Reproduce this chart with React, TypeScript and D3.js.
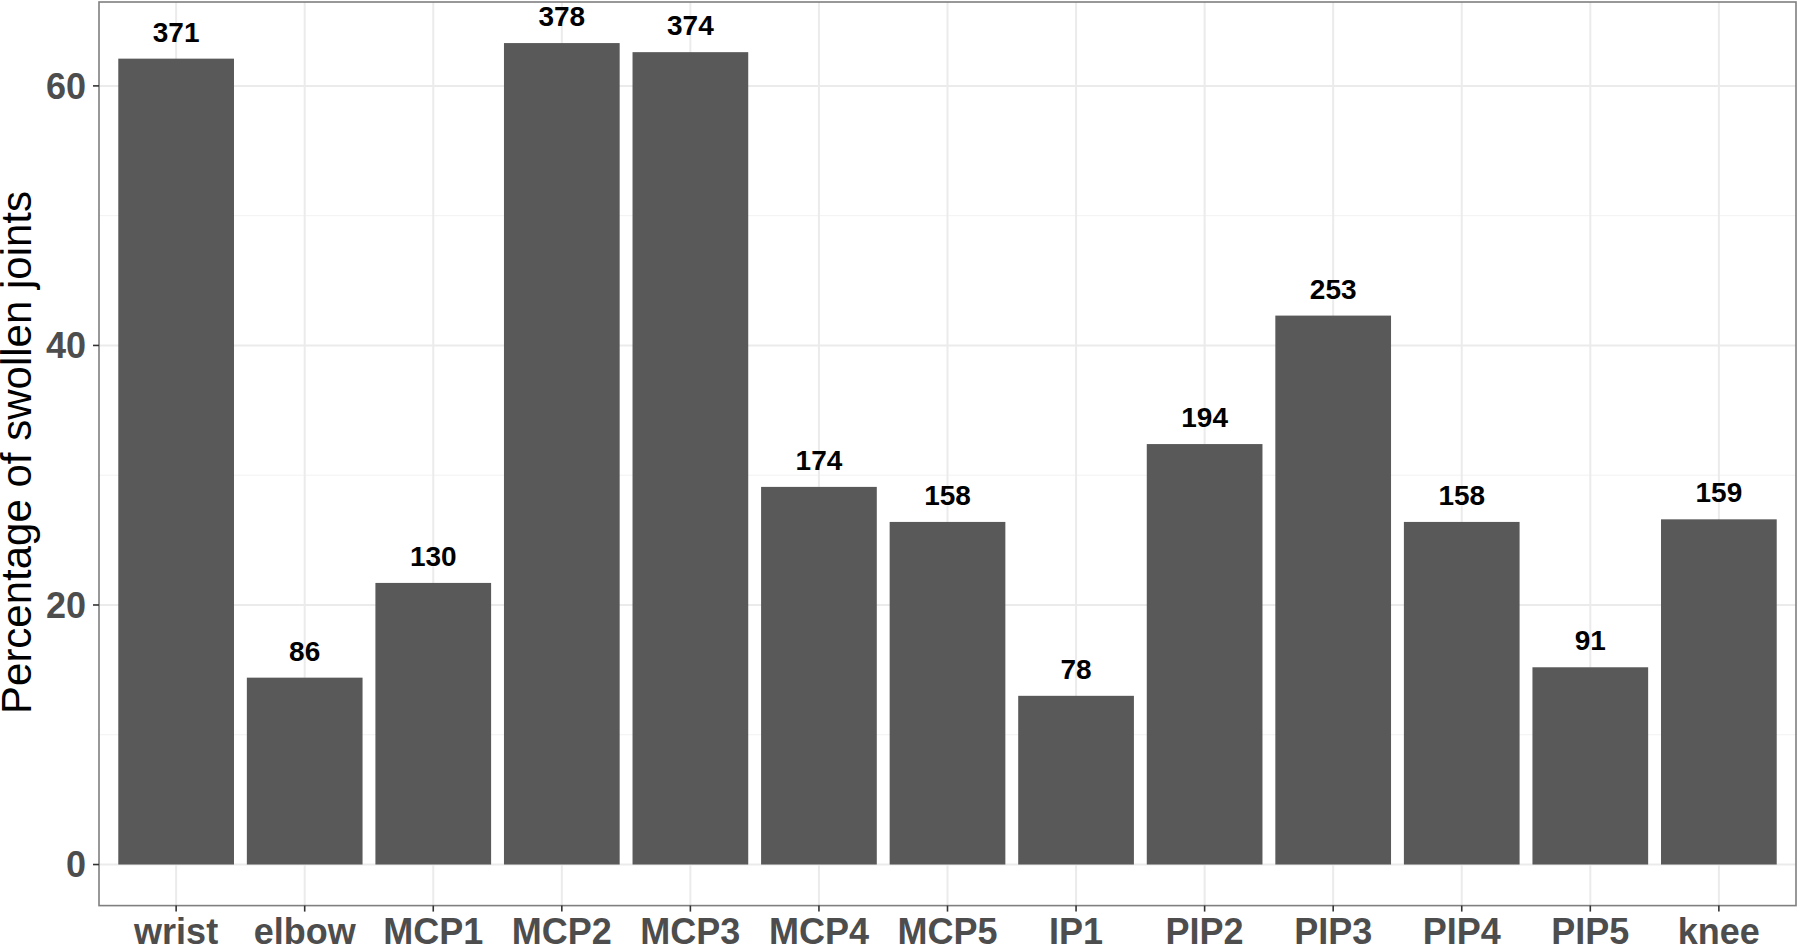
import React from 'react';
import * as d3 from 'd3';

const joints = ['wrist', 'elbow', 'MCP1', 'MCP2', 'MCP3', 'MCP4', 'MCP5', 'IP1', 'PIP2', 'PIP3', 'PIP4', 'PIP5', 'knee'];
const percentSwollen = [62.1, 14.4, 21.7, 63.3, 62.6, 29.1, 26.4, 13.0, 32.4, 42.3, 26.4, 15.2, 26.6];
const counts = [371, 86, 130, 378, 374, 174, 158, 78, 194, 253, 158, 91, 159];
const majorTicks = [0, 20, 40, 60];
const minorTicks = [10, 30, 50];

const W = 1800;
const H = 947;
const panel = { left: 99, right: 1796, top: 2, bottom: 905.6 };
const font = '"Liberation Sans", Arial, Helvetica, sans-serif';

export default function App() {
  const maxV = d3.max(percentSwollen) as number;
  const x = d3.scaleBand<string>()
    .domain(joints)
    .range([panel.left, panel.right])
    .paddingInner(0.1)
    .paddingOuter(0.15);
  const y = d3.scaleLinear()
    .domain([-0.05 * maxV, maxV * 1.05])
    .range([panel.bottom, panel.top]);

  const center = (j: string) => (x(j) as number) + x.bandwidth() / 2;

  return (
    <svg width={W} height={H} style={{ position: 'absolute', left: 0, top: 0, background: '#fff' }} fontFamily={font}>
      <rect x={0} y={0} width={W} height={H} fill="#fff" />
      {/* grid */}
      {minorTicks.map(t => (
        <line key={'mi' + t} x1={panel.left} x2={panel.right} y1={y(t)} y2={y(t)} stroke="#f2f2f2" strokeWidth={1} />
      ))}
      {majorTicks.map(t => (
        <line key={'ma' + t} x1={panel.left} x2={panel.right} y1={y(t)} y2={y(t)} stroke="#ebebeb" strokeWidth={2} />
      ))}
      {joints.map(j => (
        <line key={'vg' + j} x1={center(j)} x2={center(j)} y1={panel.top} y2={panel.bottom} stroke="#ebebeb" strokeWidth={2} />
      ))}
      {/* bars */}
      {joints.map((j, i) => (
        <rect key={'b' + j} x={x(j)} width={x.bandwidth()} y={y(percentSwollen[i])} height={y(0) - y(percentSwollen[i])} fill="#595959" />
      ))}
      {/* count labels */}
      {joints.map((j, i) => (
        <text key={'l' + j} x={center(j)} y={y(percentSwollen[i]) - 17} textAnchor="middle" fontSize={28} fontWeight="bold" fill="#000">
          {counts[i]}
        </text>
      ))}
      {/* border */}
      <rect x={panel.left} y={panel.top} width={panel.right - panel.left} height={panel.bottom - panel.top} fill="none" stroke="#7f7f7f" strokeWidth={1.6} />
      {/* y axis */}
      {majorTicks.map(t => (
        <g key={'yt' + t}>
          <line x1={panel.left - 6} x2={panel.left} y1={y(t)} y2={y(t)} stroke="#333" strokeWidth={1.6} />
          <text x={panel.left - 13} y={y(t)} dy="0.36em" textAnchor="end" fontSize={36} fontWeight="bold" fill="#4d4d4d">{t}</text>
        </g>
      ))}
      {/* x axis */}
      {joints.map(j => (
        <g key={'xt' + j}>
          <line x1={center(j)} x2={center(j)} y1={panel.bottom} y2={panel.bottom + 6} stroke="#333" strokeWidth={1.6} />
          <text x={center(j)} y={944} textAnchor="middle" fontSize={36} fontWeight="bold" fill="#4d4d4d">{j}</text>
        </g>
      ))}
      <text transform="translate(31,452.5) rotate(-90)" textAnchor="middle" fontSize={42} fill="#000">
        Percentage of swollen joints
      </text>
    </svg>
  );
}
